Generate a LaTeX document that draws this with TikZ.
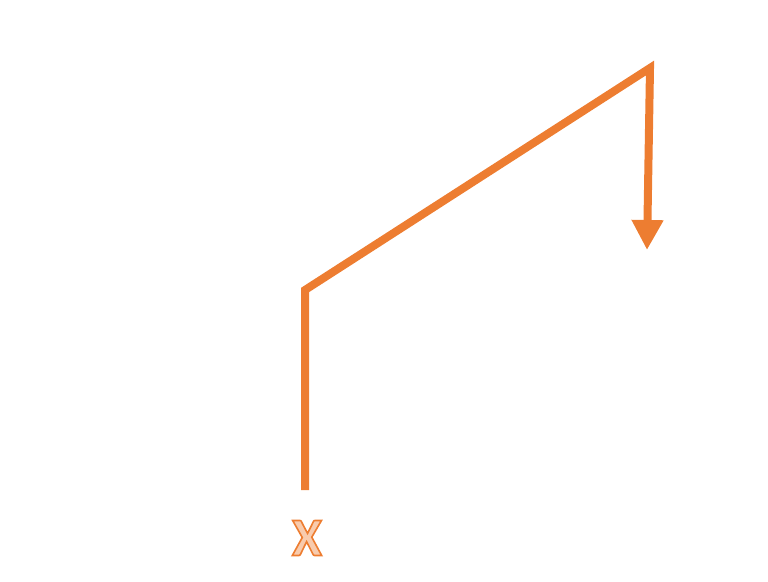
\documentclass[tikz,border=0pt]{standalone}
\usepackage{fontspec}
\setmainfont{Carlito}
\usetikzlibrary{arrows.meta}
\definecolor{orangeline}{HTML}{ED7D31}
\definecolor{orangelight}{HTML}{F8CBAD}
\font\xlabelfont="Carlito/B:embolden=3" at 54pt
\newcommand{\outlinedtext}[1]{\special{pdf:bcolor [0.973 0.796 0.678] [0.929 0.490 0.192]}#1\special{pdf:ecolor}}
\tikzset{
  conn/.style={draw=orangeline, line width=8pt, line join=miter},
  lbl/.style={font=\xlabelfont, inner sep=0pt}
}
\begin{document}
\begin{tikzpicture}[x=1pt,y=-1pt]
\useasboundingbox (0,0) rectangle (768,581);
\coordinate (start) at (305,490);
\coordinate (bend1) at (305,290);
\coordinate (bend2) at (650,68);
\coordinate (tip) at (647,250);
\node[lbl] (x) at (307,538) {\outlinedtext{X}};
\draw[conn, -{Triangle[length=30pt,width=30pt]}] (start) -- (bend1) -- (bend2) -- (tip);
\end{tikzpicture}
\end{document}
